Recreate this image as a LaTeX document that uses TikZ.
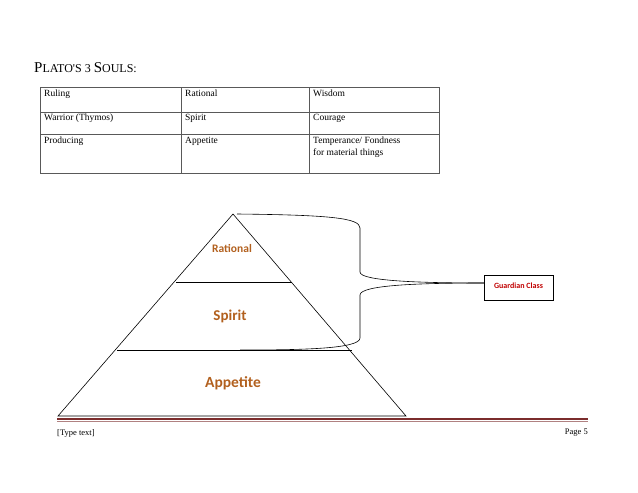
\documentclass[tikz,border=0pt]{standalone}
\usepackage{fontspec}
\setmainfont{Liberation Serif}
\newfontfamily\calfont{Carlito}
\newfontfamily\ttlfont{Liberation Serif}
\definecolor{brn}{HTML}{B2601E}
\definecolor{grd}{HTML}{C00000}
\definecolor{rule}{HTML}{7B2C2C}
\begin{document}
\begin{tikzpicture}[x=1pt,y=-1pt,
  cell/.style={anchor=north west,font=\fontsize{9.5}{12}\selectfont,align=left,inner sep=0pt},
  lbl/.style={text=brn},
  ln/.style={draw=black,line width=0.6pt}]
\useasboundingbox (0,0) rectangle (638,493);
\node[anchor=west,inner sep=0pt,font=\ttlfont\fontsize{12}{14}\selectfont] (title) at (34,68) {{\fontsize{15}{15}\selectfont P}LATO'S 3 {\fontsize{15}{15}\selectfont S}OULS:};
% table
\draw[gray!70!black,line width=0.5pt] (40,87) rectangle (439,173);
\draw[gray!70!black,line width=0.5pt] (40,112) -- (439,112) (40,134) -- (439,134) (181,87) -- (181,173) (309,87) -- (309,173);
\node[cell] (a1) at (44,90) {Ruling};
\node[cell] (a2) at (185,90) {Rational};
\node[cell] (a3) at (313,90) {Wisdom};
\node[cell] (b1) at (44,114) {Warrior (Thymos)};
\node[cell] (b2) at (185,114) {Spirit};
\node[cell] (b3) at (313,114) {Courage};
\node[cell] (c1) at (44,137) {Producing};
\node[cell] (c2) at (185,137) {Appetite};
\node[cell] (c3) at (313,137) {Temperance/ Fondness\\for material things};
% pyramid
\coordinate (apex) at (233,214);
\coordinate (bl) at (58,416);
\coordinate (br) at (406,416);
\draw[ln] (bl) -- (apex) -- (br) -- cycle;
\draw[ln] (176,282) -- (292,282);
\draw[ln] (117,350) -- (352,350);
\node[lbl,font=\calfont\bfseries\fontsize{11.5}{12}\selectfont] (rat) at (232,248) {Rat{}ional};
\node[lbl,font=\calfont\bfseries\fontsize{15}{15}\selectfont] (spi) at (230,316) {Spirit};
\node[lbl,font=\calfont\bfseries\fontsize{15.5}{16}\selectfont] (app) at (233,383) {Appet{}ite};
% guardian
\node[draw,line width=0.5pt,minimum width=69pt,minimum height=25pt,inner sep=0pt,font=\calfont\bfseries\fontsize{8}{8}\selectfont,text=grd] (g) at (518.5,288) {\raisebox{4pt}{Guardian Class}};
\coordinate (gm) at (478,283);
\draw[ln] (237,214) .. controls (330,215) and (360,218) .. (360,228) -- (360,272) .. controls (360,281) and (420,283) .. (g.west|-gm);
\draw[ln] (g.west|-gm) .. controls (420,283) and (360,285) .. (360,295) -- (360,338) .. controls (360,349) and (300,350) .. (240,350);
% footer
\draw[rule,line width=1.6pt] (57,419) -- (588,419);
\draw[rule!60,line width=0.4pt] (57,421.5) -- (588,421.5);
\node[anchor=west,inner sep=0pt,font=\fontsize{8.5}{9}\selectfont] (ft) at (57,433) {[Type text]};
\node[anchor=east,inner sep=0pt,font=\fontsize{8.5}{9}\selectfont] (pg) at (588,433) {Page 5};
\end{tikzpicture}
\end{document}
